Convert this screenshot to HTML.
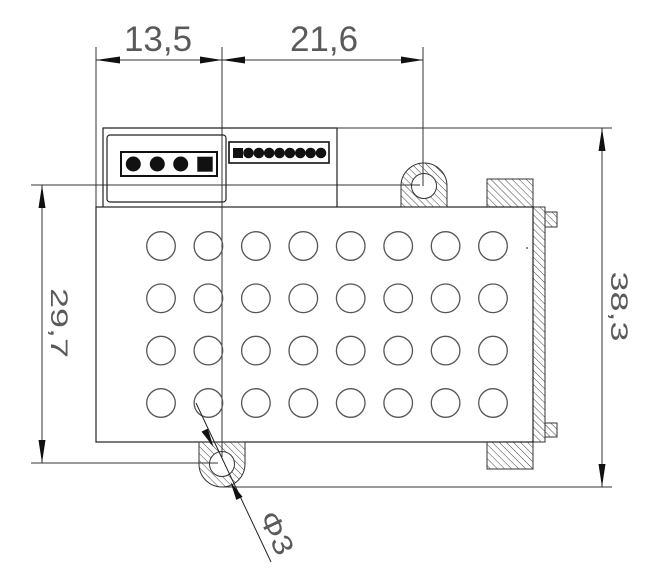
<!DOCTYPE html>
<html><head><meta charset="utf-8"><style>
html,body{margin:0;padding:0;background:#fff;}
svg{display:block;}
</style></head><body>
<svg width="650" height="573" viewBox="0 0 650 573" xmlns="http://www.w3.org/2000/svg">
<defs>
<pattern id="h" patternUnits="userSpaceOnUse" width="5" height="5" patternTransform="rotate(-45)">
<line x1="0" y1="0" x2="0" y2="5" stroke="#444" stroke-width="1"/>
</pattern>
</defs>
<g fill="none" stroke="#333" stroke-width="1">
<!-- extension lines -->
<line x1="96" y1="47" x2="96" y2="207"/>
<line x1="222" y1="47" x2="222" y2="457"/>
<line x1="423" y1="47" x2="423" y2="186"/>
<line x1="31" y1="185" x2="420" y2="185"/>
<line x1="31" y1="463" x2="218" y2="463"/>
<line x1="103" y1="128" x2="612" y2="128"/>
<line x1="222" y1="487" x2="612" y2="487"/>
<!-- dim lines -->
<line x1="96" y1="60" x2="423" y2="60"/>
<line x1="42" y1="185" x2="42" y2="463"/>
<line x1="602" y1="128" x2="602" y2="487"/>
</g>
<g fill="#111" stroke="none">
<polygon points="96,60 120,56.5 120,63.5"/>
<polygon points="222,60 200,56.5 200,63.5"/>
<polygon points="222,60 245,56.5 245,63.5"/>
<polygon points="423,60 401,56.5 401,63.5"/>
<polygon points="42,185 38.5,208 45.5,208"/>
<polygon points="42,463 38.5,440 45.5,440"/>
<polygon points="602,128 598.5,151 605.5,151"/>
<polygon points="602,487 598.5,464 605.5,464"/>
</g>
<!-- top box -->
<g fill="none" stroke="#222" stroke-width="1.2">
<polyline points="103,207 103,128 337,128 337,207"/>
<rect x="107" y="135" width="119" height="67" rx="3"/>
</g>
<rect x="121" y="152" width="96" height="24" fill="none" stroke="#111" stroke-width="2"/>
<g fill="#111">
<circle cx="133.3" cy="164" r="7.5"/>
<circle cx="157.3" cy="164" r="7.5"/>
<circle cx="180.7" cy="164" r="7.5"/>
<rect x="197.3" y="156.7" width="15.4" height="15"/>
</g>
<rect x="229" y="142" width="100" height="21" fill="none" stroke="#111" stroke-width="1.6"/>
<g fill="#111">
<rect x="233" y="148" width="10" height="10"/>
<circle cx="248.5" cy="153" r="5.3"/>
<circle cx="258.9" cy="153" r="5.3"/>
<circle cx="269.2" cy="153" r="5.3"/>
<circle cx="279.6" cy="153" r="5.3"/>
<circle cx="289.9" cy="153" r="5.3"/>
<circle cx="300.3" cy="153" r="5.3"/>
<circle cx="310.6" cy="153" r="5.3"/>
<circle cx="321" cy="153" r="5.3"/>
</g>
<!-- right hatched parts -->
<g stroke="#333" stroke-width="1" fill="url(#h)">
<rect x="487" y="179" width="46" height="28"/>
<rect x="487" y="442" width="46" height="27"/>
<rect x="533" y="207" width="12" height="235"/>
<rect x="545" y="212" width="12" height="15"/>
<rect x="545" y="423" width="12" height="14"/>
</g>
<!-- main rect -->
<rect x="96" y="207" width="437" height="235" fill="#fff" stroke="#222" stroke-width="1.2"/>
<line x1="222" y1="207" x2="222" y2="457" stroke="#333" stroke-width="1"/>
<circle cx="527" cy="248" r="1" fill="#666"/>
<!-- hole grid -->
<g fill="none" stroke="#555" stroke-width="1.3">
<circle cx="161" cy="246" r="14.3"/><circle cx="208.4" cy="246" r="14.3"/><circle cx="255.9" cy="246" r="14.3"/><circle cx="303.3" cy="246" r="14.3"/><circle cx="350.7" cy="246" r="14.3"/><circle cx="398.2" cy="246" r="14.3"/><circle cx="445.6" cy="246" r="14.3"/><circle cx="493" cy="246" r="14.3"/>
<circle cx="161" cy="298.3" r="14.3"/><circle cx="208.4" cy="298.3" r="14.3"/><circle cx="255.9" cy="298.3" r="14.3"/><circle cx="303.3" cy="298.3" r="14.3"/><circle cx="350.7" cy="298.3" r="14.3"/><circle cx="398.2" cy="298.3" r="14.3"/><circle cx="445.6" cy="298.3" r="14.3"/><circle cx="493" cy="298.3" r="14.3"/>
<circle cx="161" cy="350.6" r="14.3"/><circle cx="208.4" cy="350.6" r="14.3"/><circle cx="255.9" cy="350.6" r="14.3"/><circle cx="303.3" cy="350.6" r="14.3"/><circle cx="350.7" cy="350.6" r="14.3"/><circle cx="398.2" cy="350.6" r="14.3"/><circle cx="445.6" cy="350.6" r="14.3"/><circle cx="493" cy="350.6" r="14.3"/>
<circle cx="161" cy="403" r="14.3"/><circle cx="208.4" cy="403" r="14.3"/><circle cx="255.9" cy="403" r="14.3"/><circle cx="303.3" cy="403" r="14.3"/><circle cx="350.7" cy="403" r="14.3"/><circle cx="398.2" cy="403" r="14.3"/><circle cx="445.6" cy="403" r="14.3"/><circle cx="493" cy="403" r="14.3"/>
</g>
<!-- mounting holes -->
<path d="M401 207 L401 186 A23 23 0 0 1 447 186 L447 207 Z" fill="url(#h)" stroke="#333" stroke-width="1"/>
<circle cx="424" cy="186" r="12.5" fill="#fff" stroke="#333" stroke-width="1"/>
<line x1="423" y1="174" x2="423" y2="186" stroke="#333" stroke-width="1"/>
<line x1="411" y1="185" x2="420" y2="185" stroke="#333" stroke-width="1"/>
<path d="M199 442 L199 464 A23 23 0 0 0 245 464 L245 442 Z" fill="url(#h)" stroke="#333" stroke-width="1"/>
<circle cx="222" cy="464" r="12.5" fill="#fff" stroke="#333" stroke-width="1"/>
<line x1="222" y1="442" x2="222" y2="457" stroke="#333" stroke-width="1"/>
<line x1="209" y1="463" x2="218" y2="463" stroke="#333" stroke-width="1"/>
<!-- phi leader -->
<line x1="196" y1="403" x2="271" y2="562" stroke="#222" stroke-width="1"/>
<polygon points="213.5,447 201.5,431.6 207.8,428.6" fill="#111"/>
<polygon points="230.5,482 236.3,499.9 242.6,496.9" fill="#111"/>
<!-- texts -->
<g font-family="Liberation Sans, DejaVu Sans, sans-serif" fill="#5a5a5a">
<text x="158" y="51" font-size="35" text-anchor="middle">13,5</text>
<text x="324" y="51" font-size="35" text-anchor="middle">21,6</text>
<text transform="translate(51,323) rotate(90)" font-size="24" text-anchor="middle" textLength="70" lengthAdjust="spacingAndGlyphs">29,7</text>
<text transform="translate(611,306.5) rotate(90)" font-size="24" text-anchor="middle" textLength="70" lengthAdjust="spacingAndGlyphs">38,3</text>
<text transform="translate(268,537) rotate(64.7)" font-size="28" text-anchor="middle" textLength="45" lengthAdjust="spacingAndGlyphs">Φ3</text>
</g>
</svg>
</body></html>
